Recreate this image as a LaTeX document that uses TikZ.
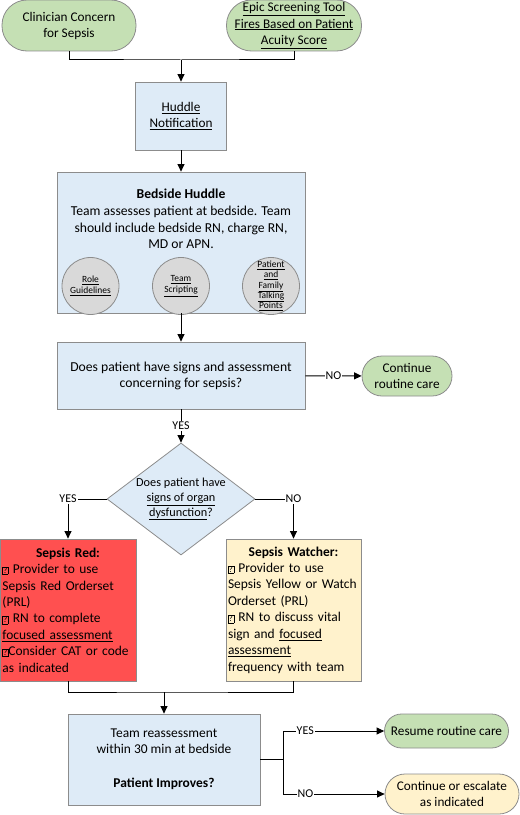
\documentclass[tikz,border=0pt]{standalone}
\usepackage{fontspec}
\setmainfont{Carlito}
\usepackage{xcolor}
\usetikzlibrary{arrows.meta,shapes.geometric}

\definecolor{termgreen}{RGB}{197,224,180}
\definecolor{boxblue}{RGB}{222,235,247}
\definecolor{circgray}{RGB}{217,217,217}
\definecolor{sepsisred}{RGB}{255,80,80}
\definecolor{watchyellow}{RGB}{255,242,204}
\definecolor{rimgray}{RGB}{140,140,140}

\newcommand{\qglyph}{{\setlength{\fboxsep}{0.6pt}\setlength{\fboxrule}{0.4pt}\fbox{\fontsize{8.5}{8.5}\selectfont ?}}}

\tikzset{
  base/.style={draw=rimgray, line width=0.8bp, inner sep=2bp, align=center, font=\fontsize{13.3}{16}\selectfont},
  terminal/.style={base, fill=termgreen},
  procbox/.style={base, fill=boxblue},
  roleball/.style={base, circle, fill=circgray, minimum size=57bp, inner sep=0pt, font=\fontsize{9.5}{11.5}\selectfont},
  flow/.style={line width=1bp, -{Triangle[length=7.5bp,width=7bp]}},
  link/.style={line width=1bp},
  tag/.style={fill=white, inner sep=1bp, font=\fontsize{12}{14}\selectfont}
}

\begin{document}
\begin{tikzpicture}[x=1bp, y=-1bp]

        \useasboundingbox (0,0) rectangle (520,815);

        % triggers
        \node[terminal, minimum width=134bp, minimum height=51bp, rounded corners=25bp] (clinician) at (69,25.5) {Clinician Concern\\for Sepsis};
        \node[terminal, minimum width=135bp, minimum height=51bp, rounded corners=25bp, font=\fontsize{13.3}{16.5}\selectfont] (epic) at (294,25.5) {\underline{Epic Screening Tool}\\\underline{Fires Based on Patient}\\\underline{Acuity Score}};

        \node[procbox, minimum width=91bp, minimum height=68bp] (notify) at (181,116) {\underline{Huddle}\\\underline{Notification}};

        % huddle
        \node[procbox, minimum width=248bp, minimum height=141bp] (huddle) at (181,242.5) {};
        \node[align=center, font=\fontsize{13.7}{16.7}\selectfont] (huddletext) at (181,219) {\textbf{Bedside Huddle}\\Team assesses patient at bedside. Team\\should include bedside RN, charge RN,\\MD or APN.};
        \node[roleball] (role) at (90.5,286) {\underline{Role}\\\underline{Guidelines}};
        \node[roleball] (script) at (181,286) {\underline{Team}\\\underline{Scripting}};
        \node[roleball, font=\fontsize{9.5}{10.3}\selectfont] (talking) at (271,286) {\underline{Patient}\\\underline{and}\\\underline{Family}\\\underline{Talking}\\\underline{Points}};

        \node[procbox, minimum width=248bp, minimum height=67bp, font=\fontsize{13.7}{16}\selectfont] (concern) at (181,375.5) {Does patient have signs and assessment\\concerning for sepsis?};
        \node[terminal, minimum width=90bp, minimum height=40bp, rounded corners=20bp] (routine) at (407,376) {Continue\\routine care};

        \node[procbox, diamond, aspect=1.32, minimum width=148bp, minimum height=112bp, inner sep=0pt, font=\fontsize{12.3}{15}\selectfont] (organ) at (181,499) {Does patient have\\\underline{signs of organ}\\\underline{dysfunction}?};

        % outcomes
        \node[base, fill=sepsisred, minimum width=136bp, minimum height=142bp, text width=131bp, align=left, font=\fontsize{13.5}{16.5}\selectfont] (red) at (68,610) {\makebox[\linewidth]{\textbf{Sepsis Red:}}\\\qglyph{} Provider to use\\Sepsis Red Orderset\\(PRL)\\\qglyph{} RN to complete\\\underline{focused assessment}\\\qglyph{}Consider CAT or code\\as indicated};
        \node[base, fill=watchyellow, minimum width=135bp, minimum height=142bp, text width=131bp, align=left, font=\fontsize{13.5}{16.5}\selectfont] (watch) at (293.5,610) {\makebox[\linewidth]{\textbf{Sepsis Watcher:}}\\\qglyph{} Provider to use\\Sepsis Yellow or Watch\\Orderset (PRL)\\\qglyph{} RN to discuss vital\\sign and \underline{focused}\\\underline{assessment}\\frequency with team};

        \node[procbox, minimum width=192bp, minimum height=91bp, font=\fontsize{13.5}{16}\selectfont] (recheck) at (164,759.5) {Team reassessment\\within 30 min at bedside\\[18bp]\textbf{Patient Improves?}};
        \node[terminal, minimum width=124bp, minimum height=34bp, rounded corners=17bp] (resume) at (446.5,731) {Resume routine care};
        \node[terminal, fill=watchyellow, minimum width=134bp, minimum height=40bp, rounded corners=20bp] (escalate) at (452,794) {Continue or escalate\\as indicated};

        % connectors
        \coordinate (join) at (181,60);
        \draw[link] (clinician.south) |- (join) -| (epic.south);
        \draw[flow] (join) -- (notify.north);
        \draw[flow] (notify) -- (huddle);
        \draw[flow] (huddle) -- (concern);
        \draw[flow] (concern) -- node[tag]{NO} (routine);
        \draw[flow] (concern) -- node[tag]{YES} (organ);
        \draw[flow] (organ.west) -| node[tag]{YES} (red.north);
        \draw[flow] (organ.east) -| node[tag]{NO} (watch.north);

        \coordinate (merge) at (164,692);
        \draw[link] (red.south) |- (merge) -| (watch.south);
        \draw[flow] (merge) -- (recheck.north);

        \coordinate (split) at (283,759.5);
        \draw[link] (recheck.east) -- (split);
        \draw[flow] (split) |- node[tag, pos=0.61]{YES} (resume.west);
        \draw[flow] (split) |- node[tag, pos=0.61]{NO} (escalate.west);

\end{tikzpicture}
\end{document}
